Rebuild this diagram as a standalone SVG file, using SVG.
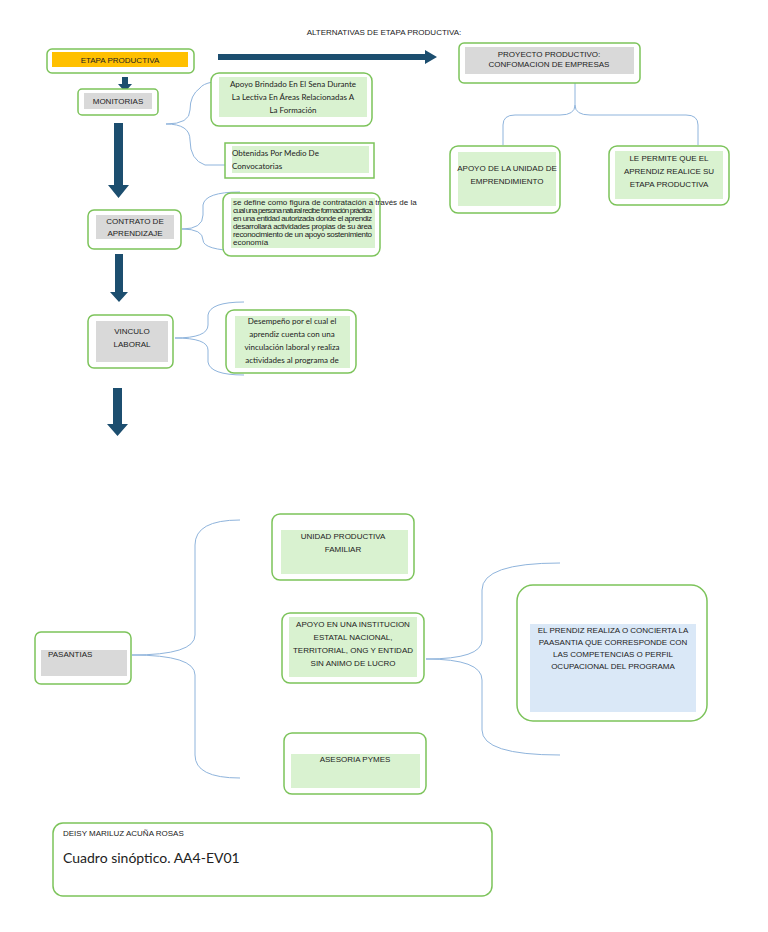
<svg xmlns="http://www.w3.org/2000/svg" width="768" height="932" viewBox="0 0 768 932">
<style>
.b{fill:#fff;stroke:#7cc35a;stroke-width:1.5}
.g{fill:#d9f2d0}
.gr{fill:#d9d9d9}
.br{fill:none;stroke:#8fb4dc;stroke-width:1}
.t{font-family:"Liberation Sans",Arial,sans-serif;font-size:8px;fill:#222;text-anchor:middle}
.ts{font-family:"Liberation Sans",Arial,sans-serif;font-size:8px;fill:#222;text-anchor:start}
.tl{font-family:"Lato","Liberation Sans",sans-serif;font-size:8px;fill:#222;text-anchor:middle}
.tls{font-family:"Lato","Liberation Sans",sans-serif;font-size:8px;fill:#222;text-anchor:start}
.ar{fill:#1c4e6f}
</style>
<rect width="768" height="932" fill="#fff"/>
<text class="t" x="384" y="35" font-size="7.5">ALTERNATIVAS DE ETAPA PRODUCTIVA:</text>
<g id="connectors">
<polygon class="ar" points="218,54 425,54 425,50 437,57 425,64 425,60 218,60"/>
<polygon class="ar" points="122,77 128,77 128,84 132,84 125,92 118,84 122,84"/>
<polygon class="ar" points="114,123 123,123 123,185 129,185 118.5,198 108,185 114,185"/>
<polygon class="ar" points="115,254 123,254 123,292 128,292 119,302 110,292 115,292"/>
<polygon class="ar" points="113,388 122,388 122,424 128,424 117.5,436 107,424 113,424"/>
<path class="br" d="M575,83 V105 Q575,115 560,115 H515 Q503,115 503,125 V145 M575,105 Q575,115 590,115 H686 Q698,115 698,125 V145"/>
<path class="br" d="M240,80 Q205,80 200,88 Q190,95 190,110 Q190,124 166,124 Q190,124 190,140 Q190,160 205,165 L240,165"/>
<path class="br" d="M240,192 Q205,192 203,205 V215 Q203,229 182,229 Q203,229 203,240 Q203,250 240,251"/>
<path class="br" d="M244,302 Q210,302 208,315 V325 Q208,338 175,338 Q208,338 208,350 V362 Q210,375 244,375"/>
<path class="br" d="M240,520 Q195,520 195,545 V635 Q195,655 132,655 Q195,655 195,675 V755 Q195,778 240,778"/>
<path class="br" d="M560,563 Q482,563 482,590 V640 Q482,659 426,659 Q482,659 482,680 V730 Q482,755 560,755"/>
</g>
<g id="etapa"><rect class="b" x="47" y="49" width="147" height="24" rx="5"/><rect x="52" y="52" width="136" height="15" fill="#ffc000"/><text class="t" x="120" y="62.5">ETAPA PRODUCTIVA</text></g>
<g id="proyecto"><rect class="b" x="459" y="43" width="181" height="40" rx="5"/><rect class="gr" x="465" y="47" width="169" height="27"/><text class="t" x="549" y="57">PROYECTO PRODUCTIVO:</text><text class="t" x="549" y="67">CONFOMACION DE EMPRESAS</text></g>
<g id="apoyo-unidad"><rect class="b" x="450" y="146" width="110" height="67" rx="8"/><rect class="g" x="458" y="152" width="98" height="54"/><text class="t" x="507" y="171">APOYO DE LA UNIDAD DE</text><text class="t" x="507" y="184">EMPRENDIMIENTO</text></g>
<g id="le-permite"><rect class="b" x="609" y="146" width="120" height="59" rx="8"/><rect class="g" x="615" y="151" width="108" height="48"/><text class="t" x="669" y="161">LE PERMITE QUE EL</text><text class="t" x="669" y="174">APRENDIZ REALICE SU</text><text class="t" x="669" y="187">ETAPA PRODUCTIVA</text></g>
<g id="monitorias"><rect class="b" x="78" y="89" width="80" height="26" rx="4"/><rect class="gr" x="84" y="93" width="68" height="16"/><text class="t" x="118" y="104">MONITORIAS</text></g>
<g id="apoyo-sena"><rect class="b" x="211" y="73" width="161" height="53" rx="8"/><rect class="g" x="219" y="77" width="148" height="40"/><text class="tl" x="293" y="87">Apoyo Brindado En El Sena Durante</text><text class="tl" x="293" y="100">La Lectiva En Áreas Relacionadas A</text><text class="tl" x="293" y="113">La Formación</text></g>
<g id="obtenidas"><rect class="b" x="225" y="143" width="149" height="35"/><rect class="g" x="232" y="146" width="137" height="27"/><text class="tls" x="232" y="156">Obtenidas Por Medio De</text><text class="tls" x="232" y="169">Convocatorias</text></g>
<g id="contrato"><rect class="b" x="88" y="210" width="93" height="39" rx="6"/><rect class="gr" x="96" y="215" width="78" height="24"/><text class="t" x="135" y="224">CONTRATO DE</text><text class="t" x="135" y="236">APRENDIZAJE</text></g>
<g id="se-define"><rect class="b" x="223" y="193" width="157" height="63" rx="8"/><rect class="g" x="231" y="198" width="144" height="50"/>
<g class="ts" font-size="5"><text x="233" y="205">se define como figura de contratación a través de la</text><text x="233" y="213" textLength="139">cual una persona natural recibe formación práctica</text><text x="233" y="221" textLength="139">en una entidad autorizada donde el aprendiz</text><text x="233" y="229" textLength="139">desarrollará actividades propias de su área</text><text x="233" y="237" textLength="139">reconocimiento de un apoyo sostenimiento</text><text x="233" y="245">economía</text></g></g>
<g id="vinculo"><rect class="b" x="88" y="315" width="85" height="53" rx="6"/><rect class="gr" x="96" y="321" width="72" height="41"/><text class="t" x="132" y="334">VINCULO</text><text class="t" x="132" y="347">LABORAL</text></g>
<g id="desempeno"><rect class="b" x="226" y="310" width="130" height="63" rx="8"/><rect class="g" x="235" y="316" width="115" height="52"/><text class="tl" x="292" y="324">Desempeño por el cual el</text><text class="tl" x="292" y="337">aprendiz cuenta con una</text><text class="tl" x="292" y="350">vinculación laboral y realiza</text><text class="tl" x="292" y="363">actividades al programa de</text></g>
<g id="pasantias"><rect class="b" x="35" y="632" width="96" height="52" rx="6"/><rect class="gr" x="41" y="650" width="86" height="26"/><text class="ts" x="48" y="657">PASANTIAS</text></g>
<g id="unidad"><rect class="b" x="272" y="514" width="142" height="66" rx="8"/><rect class="g" x="281" y="530" width="127" height="44"/><text class="t" x="343" y="539">UNIDAD PRODUCTIVA</text><text class="t" x="343" y="552">FAMILIAR</text></g>
<g id="apoyo-inst"><rect class="b" x="282" y="613" width="142" height="70" rx="8"/><rect class="g" x="289" y="617" width="128" height="60"/><text class="t" x="353" y="627">APOYO EN UNA INSTITUCION</text><text class="t" x="353" y="640">ESTATAL NACIONAL,</text><text class="t" x="353" y="653">TERRITORIAL, ONG Y ENTIDAD</text><text class="t" x="353" y="666">SIN ANIMO DE LUCRO</text></g>
<g id="asesoria"><rect class="b" x="284" y="733" width="142" height="61" rx="8"/><rect class="g" x="291" y="754" width="129" height="34"/><text class="t" x="355" y="762">ASESORIA PYMES</text></g>
<g id="prendiz"><rect class="b" x="517" y="585" width="190" height="136" rx="16"/><rect x="530" y="624" width="166" height="88" fill="#dae8f7"/><text class="t" x="613" y="633">EL PRENDIZ REALIZA O CONCIERTA LA</text><text class="t" x="613" y="645">PAASANTIA QUE CORRESPONDE CON</text><text class="t" x="613" y="657">LAS COMPETENCIAS O PERFIL</text><text class="t" x="613" y="669">OCUPACIONAL DEL PROGRAMA</text></g>
<g id="autor"><rect class="b" x="53" y="823" width="439" height="73" rx="10"/><text class="ts" x="63" y="836" font-size="7.5">DEISY MARILUZ ACUÑA ROSAS</text><text x="63" y="863" font-family="Lato,'Liberation Sans',sans-serif" font-size="14" fill="#222">Cuadro sinóptico. AA4-EV01</text></g>
</svg>
